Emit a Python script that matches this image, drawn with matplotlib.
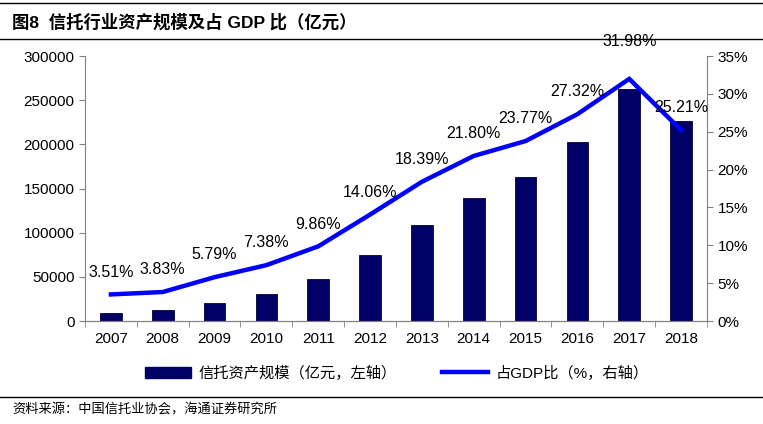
import matplotlib
matplotlib.use('Agg')
import matplotlib.pyplot as plt
from matplotlib.lines import Line2D
import numpy as np

plt.rcParams['font.family'] = ['Liberation Sans', 'Noto Sans CJK SC']

years = ['2007', '2008', '2009', '2010', '2011', '2012', '2013', '2014', '2015', '2016', '2017', '2018']
assets = [9491, 12245, 20405, 30405, 48114, 74705, 109071, 139799, 163046, 202200, 262453, 226041]
gdp_pct = [3.51, 3.83, 5.79, 7.38, 9.86, 14.06, 18.39, 21.80, 23.77, 27.32, 31.98, 25.21]

bar_color = '#000066'
line_color = '#0000FF'
spine_color = '#808080'

fig = plt.figure(figsize=(7.63, 4.24), dpi=100)
ax = fig.add_axes([0.1114, 0.2429, 0.8152, 0.625])
ax2 = ax.twinx()

x = np.arange(len(years))
ax.bar(x, assets, width=0.42, color=bar_color, edgecolor='#00003a', lw=0.6, zorder=2)
ax.set_xlim(-0.5, len(years) - 0.5)
ax.set_ylim(0, 300000)
ax.set_yticks(np.arange(0, 300001, 50000))
ax.set_xticks(x)
ax.set_xticklabels(years)
ax.set_xticks(np.arange(-0.5, len(years)), minor=True)

ax2.plot(x, gdp_pct, color=line_color, lw=3.2, solid_joinstyle='miter', zorder=3)
ax2.set_ylim(0, 35)
ax2.set_yticks(np.arange(0, 36, 5))
ax2.set_yticklabels([f'{v}%' for v in range(0, 36, 5)])

for i, v in enumerate(gdp_pct):
    off = 27 if i == 10 else 16
    ax2.annotate(f'{v:.2f}%', (i, v), xytext=(0, off), textcoords='offset points',
                 ha='center', va='center', fontsize=11.5, color='black')

for a in (ax, ax2):
    for s in a.spines.values():
        s.set_color(spine_color)
    a.spines['top'].set_visible(False)
    a.tick_params(colors=spine_color, labelcolor='black', labelsize=11, length=4)
ax.tick_params(axis='x', which='major', length=0, pad=8)
ax.tick_params(axis='x', which='minor', length=4, color=spine_color)
ax.spines['right'].set_visible(False)
ax2.spines['left'].set_visible(False)

handles = [plt.Rectangle((0, 0), 1, 1, color=bar_color),
           Line2D([0], [0], color=line_color, lw=3.2)]
labels = ['信托资产规模（亿元，左轴）', '占GDP比（%，右轴）']
fig.legend(handles, labels, loc='center', bbox_to_anchor=(0.52, 0.12), ncol=2,
           frameon=False, fontsize=11, handlelength=3.0, columnspacing=3.0,
           handleheight=0.7, handletextpad=0.5)

fig.text(0.016, 0.948, '图8  信托行业资产规模及占 GDP 比（亿元）', fontsize=12.5,
         fontweight='bold', va='center')
fig.add_artist(Line2D([0, 1], [0.993, 0.993], color='black', lw=1))
fig.add_artist(Line2D([0, 1], [0.908, 0.908], color='black', lw=1))
fig.add_artist(Line2D([0, 1], [0.064, 0.064], color='black', lw=1))
fig.text(0.016, 0.033, '资料来源：中国信托业协会，海通证券研究所', fontsize=9.5, va='center')

fig.savefig('out.png', dpi=100)
